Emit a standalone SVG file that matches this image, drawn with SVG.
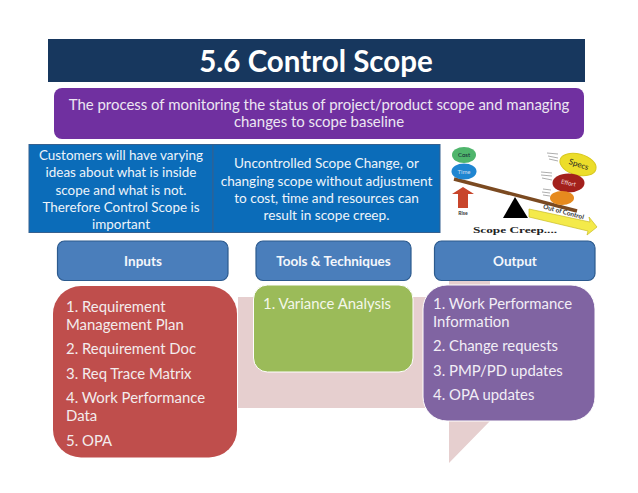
<svg xmlns="http://www.w3.org/2000/svg" width="638" height="493" viewBox="0 0 638 493">
<style>
text{font-family:Lato,"Liberation Sans",sans-serif}
.c{text-anchor:middle}
.title{font-size:29.500px;font-weight:700;fill:#fff;text-anchor:middle}
.desc{font-size:14.950px;fill:#ece6f2;text-anchor:middle}
.n1{font-size:13.450px;fill:#eef4fa;text-anchor:middle}
.n2{font-size:13.600px;fill:#eef4fa;text-anchor:middle}
.hd{font-size:13.500px;font-weight:700;fill:#f4f7fb;text-anchor:middle}
.hbox{fill:#4a7ebb;stroke:#2c5a8e;stroke-width:1.2}
.li{font-size:14.900px;fill:#f3ecec}
.blue{fill:#0b6cb9;stroke:#35608f;stroke-width:1}
.sm{font-size:6px;text-anchor:middle}
</style>
<rect width="638" height="493" fill="#fff"/>
<g id="connectors">
<path d="M238 297H449V280H490V408H490V421L449 463V408H238Z" fill="#e6cfcf"/>
</g>
<g id="title"><rect x="48" y="39" width="537" height="43" fill="#17375e"/>
<text x="316" y="72" class="title">5.6 Control Scope</text></g>
<g id="definition"><rect x="54" y="88" width="530" height="51" rx="8" fill="#7030a0"/>
<text x="319" y="110" class="desc">The process of monitoring the status of project/product scope and managing</text>
<text x="319" y="127" class="desc">changes to scope baseline</text></g>
<g id="note-left"><rect x="29" y="144.500" width="184" height="88" class="blue"/>
<text x="121" y="160" class="n1">Customers will have varying</text>
<text x="121" y="177" class="n1">ideas about what is inside</text>
<text x="121" y="194.500" class="n1">scope and what is not.</text>
<text x="121" y="212" class="n1">Therefore Control Scope is</text>
<text x="121" y="229" class="n1">important</text></g>
<g id="note-right"><rect x="213" y="144.500" width="227" height="88" class="blue"/>
<text x="326.500" y="168" class="n2">Uncontrolled Scope Change, or</text>
<text x="326.500" y="185.500" class="n2">changing scope without adjustment</text>
<text x="326.500" y="202.500" class="n2">to cost, time and resources can</text>
<text x="326.500" y="220" class="n2">result in scope creep.</text></g>
<g id="scope-creep-picture">
<path d="M454 179L577 211" stroke="#7b4a21" stroke-width="3.500" fill="none"/>
<ellipse cx="464" cy="155" rx="12" ry="8" fill="#4fb56c"/>
<text x="464" y="157" class="sm" fill="#123">Cost</text>
<ellipse cx="464" cy="171.500" rx="12.500" ry="8" fill="#1f86d1"/>
<text x="464" y="173.500" class="sm" fill="#cde">Time</text>
<path d="M463 187L474 194H468V208H458V194H452Z" fill="#c8452b"/>
<text x="463" y="215" font-size="5" font-weight="700" text-anchor="middle" fill="#333">Rise</text>
<path d="M515 197L528 218H503Z" fill="#000"/>
<ellipse cx="578" cy="164.500" rx="18.500" ry="10.500" fill="#ecdd2a" stroke="#d8c81c" transform="rotate(15 578 164.500)"/>
<text x="578" y="167" font-size="8" text-anchor="middle" fill="#222" transform="rotate(18 578 167)">Specs</text>
<ellipse cx="568.500" cy="183" rx="16" ry="9.500" fill="#a3201c"/>
<text x="568" y="185" class="sm" fill="#f3dcdc" transform="rotate(12 568 185)">Effort</text>
<ellipse cx="562" cy="198" rx="12" ry="7" fill="#e68a1e"/>
<path d="M529 209L590 222L589 217L597 227L587 235L588 231L529 217Z" fill="#f4ea4a" stroke="#c9bc24" stroke-width=".7"/>
<text x="563" y="214" font-size="6.500" font-weight="700" text-anchor="middle" fill="#333" transform="rotate(15 563 214)">Out of Control</text>
<path d="M547 153l11 1M548 156l10 2M549 159l9 2M541 172l11 1M541 175l11 1M542 178l10 2M543 189l8 1M542 192l8 1M543 195l7 1" stroke="#8a8a8a" stroke-width=".7" fill="none"/>
<text x="515" y="233" font-size="8" font-weight="700" text-anchor="middle" fill="#222" textLength="84" lengthAdjust="spacingAndGlyphs" style="font-family:'Liberation Serif',serif">Scope Creep....</text>
</g>
<g id="inputs-header"><rect x="57.500" y="241" width="170.500" height="39.500" rx="7" class="hbox"/><text x="143" y="266" class="hd">Inputs</text></g>
<g id="tools-header"><rect x="256" y="241" width="155" height="39.500" rx="7" class="hbox"/><text x="333.500" y="266" class="hd">Tools &amp; Techniques</text></g>
<g id="output-header"><rect x="434.500" y="241" width="160.500" height="39.500" rx="7" class="hbox"/><text x="515" y="266" class="hd">Output</text></g>
<g id="inputs"><rect x="53" y="286" width="184" height="171.500" rx="28" fill="#bf4e4c"/>
<text x="66" y="312" class="li">1. Requirement</text>
<text x="66" y="330" class="li">Management Plan</text>
<text x="66" y="354" class="li">2. Requirement Doc</text>
<text x="66" y="379" class="li">3. Req Trace Matrix</text>
<text x="66" y="403" class="li">4. Work Performance</text>
<text x="66" y="421" class="li">Data</text>
<text x="66" y="446" class="li">5. OPA</text></g>
<g id="tools"><rect x="253.500" y="285" width="159.500" height="87" rx="14" fill="#9bbb59" stroke="#fff"/>
<text x="263" y="309" class="li" style="fill:#f4f7ea">1. Variance Analysis</text></g>
<g id="output"><rect x="423" y="285" width="172" height="136" rx="24" fill="#8064a2" stroke="#fff"/>
<text x="433" y="309" class="li" style="fill:#f2eef6">1. Work Performance</text>
<text x="433" y="327" class="li" style="fill:#f2eef6">Information</text>
<text x="433" y="351" class="li" style="fill:#f2eef6">2. Change requests</text>
<text x="433" y="376" class="li" style="fill:#f2eef6">3. PMP/PD updates</text>
<text x="433" y="400" class="li" style="fill:#f2eef6">4. OPA updates</text></g>
</svg>
